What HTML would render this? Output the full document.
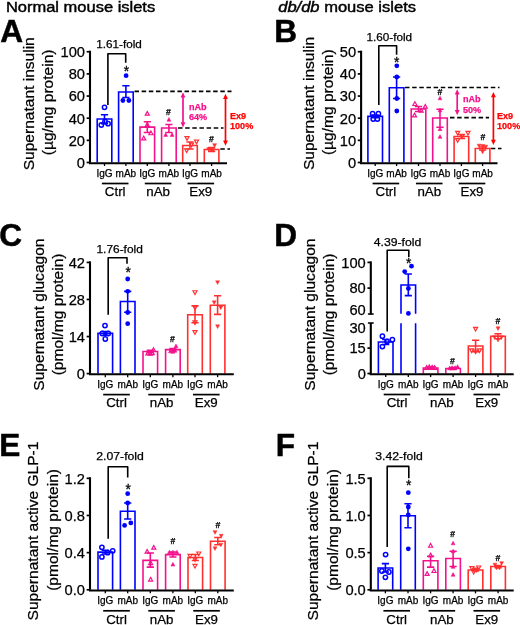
<!DOCTYPE html>
<html lang="en"><head><meta charset="utf-8"><title>Figure</title>
<style>html,body{margin:0;padding:0;background:#fff}svg{display:block}</style></head><body>
<svg width="520" height="625" viewBox="0 0 520 625" font-family='"Liberation Sans", Arial, sans-serif' fill="#000">
<rect width="520" height="625" fill="#fff"/>
<text x="5.9" y="12.0" font-size="15.3" text-anchor="start" fill="#000" textLength="149.3" lengthAdjust="spacingAndGlyphs" stroke="#000" stroke-width="0.45">Normal mouse islets</text>
<text x="278.2" y="12.0" font-size="15.3" stroke="#000" stroke-width="0.45" textLength="137.8" lengthAdjust="spacingAndGlyphs"><tspan font-style="italic">db/db</tspan> mouse islets</text>
<text x="0.2" y="41.8" font-size="31.6" text-anchor="start" fill="#000" font-weight="bold" stroke="#000" stroke-width="0.5">A</text>
<text transform="translate(34.4,103.8) rotate(-90)" font-size="15.55" text-anchor="middle" stroke="#000" stroke-width="0.25">Supernatant insulin</text>
<text transform="translate(52.8,102.4) rotate(-90)" font-size="15.55" text-anchor="middle" stroke="#000" stroke-width="0.25">(µg/mg protein)</text>
<path d="M97.2,162.5 V119 H111.8 V162.5" fill="none" stroke="#0000FF" stroke-width="1.6"/>
<path d="M118.60000000000001,162.5 V92 H133.20000000000002 V162.5" fill="none" stroke="#0000FF" stroke-width="1.6"/>
<path d="M140.0,162.5 V127.1 H154.60000000000002 V162.5" fill="none" stroke="#F4118C" stroke-width="1.6"/>
<path d="M161.6,162.5 V128 H176.20000000000002 V162.5" fill="none" stroke="#F4118C" stroke-width="1.6"/>
<path d="M182.7,162.5 V145.5 H197.3 V162.5" fill="none" stroke="#FF3030" stroke-width="1.6"/>
<path d="M204.29999999999998,162.5 V149.5 H218.9 V162.5" fill="none" stroke="#FF3030" stroke-width="1.6"/>
<path d="M104.5,114.7 V123.7 M100.9,114.7 H108.1 M100.9,123.7 H108.1" fill="none" stroke="#0000FF" stroke-width="1.6"/>
<path d="M125.9,85.8 V97.5 M122.30000000000001,85.8 H129.5 M122.30000000000001,97.5 H129.5" fill="none" stroke="#0000FF" stroke-width="1.6"/>
<path d="M147.3,121.7 V132.5 M143.70000000000002,121.7 H150.9 M143.70000000000002,132.5 H150.9" fill="none" stroke="#F4118C" stroke-width="1.6"/>
<path d="M168.9,124.5 V132.5 M165.3,124.5 H172.5 M165.3,132.5 H172.5" fill="none" stroke="#F4118C" stroke-width="1.6"/>
<path d="M190.0,142 V149 M186.4,142 H193.6 M186.4,149 H193.6" fill="none" stroke="#FF3030" stroke-width="1.6"/>
<path d="M211.6,147.5 V151.5 M208.0,147.5 H215.2 M208.0,151.5 H215.2" fill="none" stroke="#FF3030" stroke-width="1.6"/>
<circle cx="104.5" cy="107.3" r="2.15" fill="none" stroke="#0000FF" stroke-width="1.5"/>
<circle cx="101.3" cy="125" r="2.15" fill="none" stroke="#0000FF" stroke-width="1.5"/>
<circle cx="108.1" cy="123.7" r="2.15" fill="none" stroke="#0000FF" stroke-width="1.5"/>
<circle cx="105.0" cy="121.5" r="2.15" fill="none" stroke="#0000FF" stroke-width="1.5"/>
<circle cx="126.10000000000001" cy="75.7" r="2.4" fill="#0000FF"/>
<circle cx="122.9" cy="100.5" r="2.4" fill="#0000FF"/>
<circle cx="128.9" cy="100.5" r="2.4" fill="#0000FF"/>
<polygon points="147.3,111.45 149.35000000000002,115.14999999999999 145.25,115.14999999999999" fill="none" stroke="#F4118C" stroke-width="1.15" stroke-linejoin="miter"/>
<polygon points="150.9,131.05 152.95000000000002,134.75 148.85,134.75" fill="none" stroke="#F4118C" stroke-width="1.15" stroke-linejoin="miter"/>
<polygon points="143.70000000000002,136.15 145.75000000000003,139.85 141.65,139.85" fill="none" stroke="#F4118C" stroke-width="1.15" stroke-linejoin="miter"/>
<polygon points="147.3,122.65 149.35000000000002,126.35 145.25,126.35" fill="none" stroke="#F4118C" stroke-width="1.15" stroke-linejoin="miter"/>
<polygon points="168.9,117.55000000000001 170.85,121.25 166.95000000000002,121.25" fill="#F4118C" stroke="#F4118C" stroke-width="0.5"/>
<polygon points="165.70000000000002,132.75 167.65,136.45 163.75000000000003,136.45" fill="#F4118C" stroke="#F4118C" stroke-width="0.5"/>
<polygon points="172.1,132.75 174.04999999999998,136.45 170.15,136.45" fill="#F4118C" stroke="#F4118C" stroke-width="0.5"/>
<polygon points="187.0,140.35 189.05,136.65 184.95,136.65" fill="none" stroke="#FF3030" stroke-width="1.15" stroke-linejoin="miter"/>
<polygon points="196.5,143.85 198.55,140.15 194.45,140.15" fill="none" stroke="#FF3030" stroke-width="1.15" stroke-linejoin="miter"/>
<polygon points="186.7,152.54999999999998 188.75,148.85 184.64999999999998,148.85" fill="none" stroke="#FF3030" stroke-width="1.15" stroke-linejoin="miter"/>
<polygon points="191.5,146.85 193.55,143.15 189.45,143.15" fill="none" stroke="#FF3030" stroke-width="1.15" stroke-linejoin="miter"/>
<polygon points="214.6,147.35 216.54999999999998,143.65 212.65,143.65" fill="#FF3030" stroke="#FF3030" stroke-width="0.5"/>
<polygon points="210.1,151.85 212.04999999999998,148.15 208.15,148.15" fill="#FF3030" stroke="#FF3030" stroke-width="0.5"/>
<polygon points="213.1,152.15 215.04999999999998,148.45000000000002 211.15,148.45000000000002" fill="#FF3030" stroke="#FF3030" stroke-width="0.5"/>
<polygon points="208.6,151.35 210.54999999999998,147.65 206.65,147.65" fill="#FF3030" stroke="#FF3030" stroke-width="0.5"/>
<path d="M88.95,163.2 H227" stroke="#000" stroke-width="2.1" fill="none"/>
<path d="M104.5,163.2 V166.05" stroke="#000" stroke-width="1.3" fill="none"/>
<path d="M125.9,163.2 V166.05" stroke="#000" stroke-width="1.3" fill="none"/>
<path d="M147.3,163.2 V166.05" stroke="#000" stroke-width="1.3" fill="none"/>
<path d="M168.9,163.2 V166.05" stroke="#000" stroke-width="1.3" fill="none"/>
<path d="M190.0,163.2 V166.05" stroke="#000" stroke-width="1.3" fill="none"/>
<path d="M211.6,163.2 V166.05" stroke="#000" stroke-width="1.3" fill="none"/>
<path d="M90,50.7 V162.5" stroke="#000" stroke-width="2.1" fill="none"/>
<path d="M86.65,162.5 H90" stroke="#000" stroke-width="1.7" fill="none"/>
<text x="85.0" y="167.8626" font-size="14.7" text-anchor="end" fill="#000" stroke="#000" stroke-width="0.25">0</text>
<path d="M86.65,140.35 H90" stroke="#000" stroke-width="1.7" fill="none"/>
<text x="85.0" y="145.71259999999998" font-size="14.7" text-anchor="end" fill="#000" stroke="#000" stroke-width="0.25">20</text>
<path d="M86.65,118.2 H90" stroke="#000" stroke-width="1.7" fill="none"/>
<text x="85.0" y="123.5626" font-size="14.7" text-anchor="end" fill="#000" stroke="#000" stroke-width="0.25">40</text>
<path d="M86.65,96.05000000000001 H90" stroke="#000" stroke-width="1.7" fill="none"/>
<text x="85.0" y="101.41260000000001" font-size="14.7" text-anchor="end" fill="#000" stroke="#000" stroke-width="0.25">60</text>
<path d="M86.65,73.9 H90" stroke="#000" stroke-width="1.7" fill="none"/>
<text x="85.0" y="79.2626" font-size="14.7" text-anchor="end" fill="#000" stroke="#000" stroke-width="0.25">80</text>
<path d="M86.65,51.75 H90" stroke="#000" stroke-width="1.7" fill="none"/>
<text x="85.0" y="57.1126" font-size="14.7" text-anchor="end" fill="#000" stroke="#000" stroke-width="0.25">100</text>
<text x="104.5" y="176.8" font-size="10.0" text-anchor="middle" fill="#000" stroke="#000" stroke-width="0.25">IgG</text>
<text x="125.9" y="176.8" font-size="10.0" text-anchor="middle" fill="#000" stroke="#000" stroke-width="0.25">mAb</text>
<text x="147.3" y="176.8" font-size="10.0" text-anchor="middle" fill="#000" stroke="#000" stroke-width="0.25">IgG</text>
<text x="168.9" y="176.8" font-size="10.0" text-anchor="middle" fill="#000" stroke="#000" stroke-width="0.25">mAb</text>
<text x="190.0" y="176.8" font-size="10.0" text-anchor="middle" fill="#000" stroke="#000" stroke-width="0.25">IgG</text>
<text x="211.6" y="176.8" font-size="10.0" text-anchor="middle" fill="#000" stroke="#000" stroke-width="0.25">mAb</text>
<path d="M101.9,183.5 H128.5" stroke="#000" stroke-width="1.7" fill="none"/>
<text x="115.2" y="196.3" font-size="13.3" text-anchor="middle" fill="#000" stroke="#000" stroke-width="0.25">Ctrl</text>
<path d="M144.8,183.5 H171.40000000000003" stroke="#000" stroke-width="1.7" fill="none"/>
<text x="158.10000000000002" y="196.3" font-size="13.3" text-anchor="middle" fill="#000" stroke="#000" stroke-width="0.25">nAb</text>
<path d="M187.5,183.5 H214.10000000000002" stroke="#000" stroke-width="1.7" fill="none"/>
<text x="200.8" y="196.3" font-size="13.3" text-anchor="middle" fill="#000" stroke="#000" stroke-width="0.25">Ex9</text>
<path d="M107.9,104.9 V53.7 H125.7 V62.800000000000004" stroke="#000" stroke-width="1.6" fill="none" stroke-linejoin="round"/>
<text x="119.1" y="48.1" font-size="11.1" text-anchor="middle" fill="#000" textLength="45.6" lengthAdjust="spacingAndGlyphs" stroke="#000" stroke-width="0.25">1.61-fold</text>
<text x="126.5" y="76.48" font-size="13.8" text-anchor="middle" fill="#000" stroke="#000" stroke-width="0.3">*</text>
<text x="168.3" y="115.2" font-size="8.6" text-anchor="middle" fill="#000" font-weight="bold" stroke="#000" stroke-width="0.25">#</text>
<text x="211.3" y="142.4" font-size="8.6" text-anchor="middle" fill="#000" font-weight="bold" stroke="#000" stroke-width="0.25">#</text>
<path d="M134.5,91.4 H231.5" stroke="#000" stroke-width="1.7" stroke-dasharray="4.5 2.65" fill="none"/>
<path d="M178,128 H223.5" stroke="#000" stroke-width="1.7" stroke-dasharray="4.5 2.65" fill="none"/>
<path d="M220.3,149 H230" stroke="#000" stroke-width="1.7" stroke-dasharray="4.5 2.65" fill="none"/>
<path d="M183,97.0 V122.7" stroke="#F4118C" stroke-width="1.7" fill="none"/>
<polygon points="183,92.3 185.4,97.5 180.6,97.5" fill="#F4118C"/>
<polygon points="183,127.4 185.4,122.2 180.6,122.2" fill="#F4118C"/>
<path d="M225.5,98.5 V141.10000000000002" stroke="#FF0000" stroke-width="1.7" fill="none"/>
<polygon points="225.5,93.8 227.9,99.0 223.1,99.0" fill="#FF0000"/>
<polygon points="225.5,145.8 227.9,140.60000000000002 223.1,140.60000000000002" fill="#FF0000"/>
<text x="189" y="109.5" font-size="9.1" text-anchor="start" fill="#F4118C" font-weight="bold" stroke="#F4118C" stroke-width="0.25">nAb</text>
<text x="189" y="120" font-size="9.1" text-anchor="start" fill="#F4118C" font-weight="bold" stroke="#F4118C" stroke-width="0.25">64%</text>
<text x="230" y="118.5" font-size="9.1" text-anchor="start" fill="#FF0000" font-weight="bold" stroke="#FF0000" stroke-width="0.25">Ex9</text>
<text x="230" y="129" font-size="9.1" text-anchor="start" fill="#FF0000" font-weight="bold" stroke="#FF0000" stroke-width="0.25">100%</text>
<text x="274.3" y="41.8" font-size="31.6" text-anchor="start" fill="#000" font-weight="bold" stroke="#000" stroke-width="0.5">B</text>
<text transform="translate(314.0,103.5) rotate(-90)" font-size="15.55" text-anchor="middle" stroke="#000" stroke-width="0.25">Supernatant insulin</text>
<text transform="translate(332.5,102.2) rotate(-90)" font-size="15.55" text-anchor="middle" stroke="#000" stroke-width="0.25">(µg/mg protein)</text>
<path d="M367.9,162.5 V116.4 H382.5 V162.5" fill="none" stroke="#0000FF" stroke-width="1.6"/>
<path d="M389.3,162.5 V87.8 H403.90000000000003 V162.5" fill="none" stroke="#0000FF" stroke-width="1.6"/>
<path d="M411.2,162.5 V109 H425.8 V162.5" fill="none" stroke="#F4118C" stroke-width="1.6"/>
<path d="M432.7,162.5 V118 H447.3 V162.5" fill="none" stroke="#F4118C" stroke-width="1.6"/>
<path d="M454.09999999999997,162.5 V136.5 H468.7 V162.5" fill="none" stroke="#FF3030" stroke-width="1.6"/>
<path d="M475.3,162.5 V148.5 H489.90000000000003 V162.5" fill="none" stroke="#FF3030" stroke-width="1.6"/>
<path d="M375.2,115 V117.8 M371.59999999999997,115 H378.8 M371.59999999999997,117.8 H378.8" fill="none" stroke="#0000FF" stroke-width="1.6"/>
<path d="M396.6,77 V98.5 M393.0,77 H400.20000000000005 M393.0,98.5 H400.20000000000005" fill="none" stroke="#0000FF" stroke-width="1.6"/>
<path d="M418.5,106.5 V111.5 M414.9,106.5 H422.1 M414.9,111.5 H422.1" fill="none" stroke="#F4118C" stroke-width="1.6"/>
<path d="M440.0,109.2 V127.3 M436.4,109.2 H443.6 M436.4,127.3 H443.6" fill="none" stroke="#F4118C" stroke-width="1.6"/>
<path d="M461.4,134.5 V138.5 M457.79999999999995,134.5 H465.0 M457.79999999999995,138.5 H465.0" fill="none" stroke="#FF3030" stroke-width="1.6"/>
<path d="M482.6,147 V150 M479.0,147 H486.20000000000005 M479.0,150 H486.20000000000005" fill="none" stroke="#FF3030" stroke-width="1.6"/>
<circle cx="372.59999999999997" cy="113.7" r="2.15" fill="none" stroke="#0000FF" stroke-width="1.5"/>
<circle cx="378.4" cy="113.7" r="2.15" fill="none" stroke="#0000FF" stroke-width="1.5"/>
<circle cx="373.2" cy="119" r="2.15" fill="none" stroke="#0000FF" stroke-width="1.5"/>
<circle cx="377.4" cy="119" r="2.15" fill="none" stroke="#0000FF" stroke-width="1.5"/>
<circle cx="396.8" cy="65.8" r="2.4" fill="#0000FF"/>
<circle cx="396.8" cy="77" r="2.4" fill="#0000FF"/>
<circle cx="396.8" cy="98.5" r="2.4" fill="#0000FF"/>
<circle cx="396.8" cy="111" r="2.4" fill="#0000FF"/>
<polygon points="414.9,101.75 416.95,105.44999999999999 412.84999999999997,105.44999999999999" fill="none" stroke="#F4118C" stroke-width="1.15" stroke-linejoin="miter"/>
<polygon points="425.3,104.45 427.35,108.14999999999999 423.25,108.14999999999999" fill="none" stroke="#F4118C" stroke-width="1.15" stroke-linejoin="miter"/>
<polygon points="421.2,108.55000000000001 423.25,112.25 419.15,112.25" fill="none" stroke="#F4118C" stroke-width="1.15" stroke-linejoin="miter"/>
<polygon points="414.5,113.15 416.55,116.85 412.45,116.85" fill="none" stroke="#F4118C" stroke-width="1.15" stroke-linejoin="miter"/>
<polygon points="440.0,96.15 441.95,99.85 438.05,99.85" fill="#F4118C" stroke="#F4118C" stroke-width="0.5"/>
<polygon points="440.0,108.15 441.95,111.85 438.05,111.85" fill="#F4118C" stroke="#F4118C" stroke-width="0.5"/>
<polygon points="440.0,126.95000000000002 441.95,130.65 438.05,130.65" fill="#F4118C" stroke="#F4118C" stroke-width="0.5"/>
<polygon points="440.0,134.65 441.95,138.35 438.05,138.35" fill="#F4118C" stroke="#F4118C" stroke-width="0.5"/>
<polygon points="457.7,135.04999999999998 459.75,131.35 455.65,131.35" fill="none" stroke="#FF3030" stroke-width="1.15" stroke-linejoin="miter"/>
<polygon points="468.0,135.04999999999998 470.05,131.35 465.95,131.35" fill="none" stroke="#FF3030" stroke-width="1.15" stroke-linejoin="miter"/>
<polygon points="457.7,142.25 459.75,138.55 455.65,138.55" fill="none" stroke="#FF3030" stroke-width="1.15" stroke-linejoin="miter"/>
<polygon points="462.0,138.35 464.05,134.65 459.95,134.65" fill="none" stroke="#FF3030" stroke-width="1.15" stroke-linejoin="miter"/>
<polygon points="479.1,147.85 481.05,144.15 477.15000000000003,144.15" fill="#FF3030" stroke="#FF3030" stroke-width="0.5"/>
<polygon points="482.6,148.15 484.55,144.45000000000002 480.65000000000003,144.45000000000002" fill="#FF3030" stroke="#FF3030" stroke-width="0.5"/>
<polygon points="485.8,148.85 487.75,145.15 483.85,145.15" fill="#FF3030" stroke="#FF3030" stroke-width="0.5"/>
<polygon points="482.6,153.85 484.55,150.15 480.65000000000003,150.15" fill="#FF3030" stroke="#FF3030" stroke-width="0.5"/>
<path d="M360.05,163.2 H497.5" stroke="#000" stroke-width="2.1" fill="none"/>
<path d="M375.2,163.2 V166.05" stroke="#000" stroke-width="1.3" fill="none"/>
<path d="M396.6,163.2 V166.05" stroke="#000" stroke-width="1.3" fill="none"/>
<path d="M418.5,163.2 V166.05" stroke="#000" stroke-width="1.3" fill="none"/>
<path d="M440.0,163.2 V166.05" stroke="#000" stroke-width="1.3" fill="none"/>
<path d="M461.4,163.2 V166.05" stroke="#000" stroke-width="1.3" fill="none"/>
<path d="M482.6,163.2 V166.05" stroke="#000" stroke-width="1.3" fill="none"/>
<path d="M361.1,50.7 V162.5" stroke="#000" stroke-width="2.1" fill="none"/>
<path d="M357.75,162.5 H361.1" stroke="#000" stroke-width="1.7" fill="none"/>
<text x="356.1" y="167.8626" font-size="14.7" text-anchor="end" fill="#000" stroke="#000" stroke-width="0.25">0</text>
<path d="M357.75,140.35 H361.1" stroke="#000" stroke-width="1.7" fill="none"/>
<text x="356.1" y="145.71259999999998" font-size="14.7" text-anchor="end" fill="#000" stroke="#000" stroke-width="0.25">10</text>
<path d="M357.75,118.2 H361.1" stroke="#000" stroke-width="1.7" fill="none"/>
<text x="356.1" y="123.5626" font-size="14.7" text-anchor="end" fill="#000" stroke="#000" stroke-width="0.25">20</text>
<path d="M357.75,96.05000000000001 H361.1" stroke="#000" stroke-width="1.7" fill="none"/>
<text x="356.1" y="101.41260000000001" font-size="14.7" text-anchor="end" fill="#000" stroke="#000" stroke-width="0.25">30</text>
<path d="M357.75,73.9 H361.1" stroke="#000" stroke-width="1.7" fill="none"/>
<text x="356.1" y="79.2626" font-size="14.7" text-anchor="end" fill="#000" stroke="#000" stroke-width="0.25">40</text>
<path d="M357.75,51.75 H361.1" stroke="#000" stroke-width="1.7" fill="none"/>
<text x="356.1" y="57.1126" font-size="14.7" text-anchor="end" fill="#000" stroke="#000" stroke-width="0.25">50</text>
<text x="375.2" y="176.8" font-size="10.0" text-anchor="middle" fill="#000" stroke="#000" stroke-width="0.25">IgG</text>
<text x="396.6" y="176.8" font-size="10.0" text-anchor="middle" fill="#000" stroke="#000" stroke-width="0.25">mAb</text>
<text x="418.5" y="176.8" font-size="10.0" text-anchor="middle" fill="#000" stroke="#000" stroke-width="0.25">IgG</text>
<text x="440.0" y="176.8" font-size="10.0" text-anchor="middle" fill="#000" stroke="#000" stroke-width="0.25">mAb</text>
<text x="461.4" y="176.8" font-size="10.0" text-anchor="middle" fill="#000" stroke="#000" stroke-width="0.25">IgG</text>
<text x="482.6" y="176.8" font-size="10.0" text-anchor="middle" fill="#000" stroke="#000" stroke-width="0.25">mAb</text>
<path d="M372.59999999999997,183.5 H399.2" stroke="#000" stroke-width="1.7" fill="none"/>
<text x="385.9" y="196.3" font-size="13.3" text-anchor="middle" fill="#000" stroke="#000" stroke-width="0.25">Ctrl</text>
<path d="M415.95,183.5 H442.55" stroke="#000" stroke-width="1.7" fill="none"/>
<text x="429.25" y="196.3" font-size="13.3" text-anchor="middle" fill="#000" stroke="#000" stroke-width="0.25">nAb</text>
<path d="M458.7,183.5 H485.3" stroke="#000" stroke-width="1.7" fill="none"/>
<text x="472.0" y="196.3" font-size="13.3" text-anchor="middle" fill="#000" stroke="#000" stroke-width="0.25">Ex9</text>
<path d="M378.8,105 V45.7 H396.6 V54.7" stroke="#000" stroke-width="1.6" fill="none" stroke-linejoin="round"/>
<text x="389.3" y="40.9" font-size="11.1" text-anchor="middle" fill="#000" textLength="45.6" lengthAdjust="spacingAndGlyphs" stroke="#000" stroke-width="0.25">1.60-fold</text>
<text x="396.6" y="67.38" font-size="13.8" text-anchor="middle" fill="#000" stroke="#000" stroke-width="0.3">*</text>
<text x="440" y="94.5" font-size="8.6" text-anchor="middle" fill="#000" font-weight="bold" stroke="#000" stroke-width="0.25">#</text>
<text x="482.8" y="140" font-size="8.6" text-anchor="middle" fill="#000" font-weight="bold" stroke="#000" stroke-width="0.25">#</text>
<path d="M405,87.5 H499.5" stroke="#000" stroke-width="1.7" stroke-dasharray="4.5 2.65" fill="none"/>
<path d="M450,117.7 H489" stroke="#000" stroke-width="1.7" stroke-dasharray="4.5 2.65" fill="none"/>
<path d="M490.8,148.5 H501.5" stroke="#000" stroke-width="1.7" stroke-dasharray="4.5 2.65" fill="none"/>
<path d="M457.2,93.9 V110.6" stroke="#F4118C" stroke-width="1.7" fill="none"/>
<polygon points="457.2,89.2 459.59999999999997,94.4 454.8,94.4" fill="#F4118C"/>
<polygon points="457.2,115.3 459.59999999999997,110.1 454.8,110.1" fill="#F4118C"/>
<path d="M493.4,96.7 V140.3" stroke="#FF0000" stroke-width="1.7" fill="none"/>
<polygon points="493.4,92 495.79999999999995,97.2 491.0,97.2" fill="#FF0000"/>
<polygon points="493.4,145 495.79999999999995,139.8 491.0,139.8" fill="#FF0000"/>
<text x="463" y="102.4" font-size="9.1" text-anchor="start" fill="#F4118C" font-weight="bold" stroke="#F4118C" stroke-width="0.25">nAb</text>
<text x="463" y="112.7" font-size="9.1" text-anchor="start" fill="#F4118C" font-weight="bold" stroke="#F4118C" stroke-width="0.25">50%</text>
<text x="497" y="119" font-size="9.1" text-anchor="start" fill="#FF0000" font-weight="bold" stroke="#FF0000" stroke-width="0.25">Ex9</text>
<text x="497" y="129.3" font-size="9.1" text-anchor="start" fill="#FF0000" font-weight="bold" stroke="#FF0000" stroke-width="0.25">100%</text>
<text x="-0.8" y="245.6" font-size="31.6" text-anchor="start" fill="#000" font-weight="bold" stroke="#000" stroke-width="0.5">C</text>
<text transform="translate(43.7,314.6) rotate(-90)" font-size="15.55" text-anchor="middle" stroke="#000" stroke-width="0.25">Supernatant glucagon</text>
<text transform="translate(62.8,314.45) rotate(-90)" font-size="15.55" text-anchor="middle" stroke="#000" stroke-width="0.25">(pmol/mg protein)</text>
<path d="M98.0,373.6 V333.3 H112.6 V373.6" fill="none" stroke="#0000FF" stroke-width="1.6"/>
<path d="M120.4,373.6 V301.5 H135.0 V373.6" fill="none" stroke="#0000FF" stroke-width="1.6"/>
<path d="M143.0,373.6 V351.5 H157.60000000000002 V373.6" fill="none" stroke="#F4118C" stroke-width="1.6"/>
<path d="M165.6,373.6 V349.6 H180.20000000000002 V373.6" fill="none" stroke="#F4118C" stroke-width="1.6"/>
<path d="M187.7,373.6 V314.7 H202.3 V373.6" fill="none" stroke="#FF3030" stroke-width="1.6"/>
<path d="M210.29999999999998,373.6 V305.2 H224.9 V373.6" fill="none" stroke="#FF3030" stroke-width="1.6"/>
<path d="M105.3,331.5 V335.3 M101.7,331.5 H108.89999999999999 M101.7,335.3 H108.89999999999999" fill="none" stroke="#0000FF" stroke-width="1.6"/>
<path d="M127.7,291.4 V312.3 M124.10000000000001,291.4 H131.3 M124.10000000000001,312.3 H131.3" fill="none" stroke="#0000FF" stroke-width="1.6"/>
<path d="M150.3,350.3 V352.8 M146.70000000000002,350.3 H153.9 M146.70000000000002,352.8 H153.9" fill="none" stroke="#F4118C" stroke-width="1.6"/>
<path d="M172.9,348.5 V351 M169.3,348.5 H176.5 M169.3,351 H176.5" fill="none" stroke="#F4118C" stroke-width="1.6"/>
<path d="M195.0,305.8 V322.8 M191.4,305.8 H198.6 M191.4,322.8 H198.6" fill="none" stroke="#FF3030" stroke-width="1.6"/>
<path d="M217.6,295.8 V314.4 M214.0,295.8 H221.2 M214.0,314.4 H221.2" fill="none" stroke="#FF3030" stroke-width="1.6"/>
<circle cx="105.0" cy="325.6" r="2.15" fill="none" stroke="#0000FF" stroke-width="1.5"/>
<circle cx="102.3" cy="333.5" r="2.15" fill="none" stroke="#0000FF" stroke-width="1.5"/>
<circle cx="108.3" cy="333.5" r="2.15" fill="none" stroke="#0000FF" stroke-width="1.5"/>
<circle cx="105.3" cy="339" r="2.15" fill="none" stroke="#0000FF" stroke-width="1.5"/>
<circle cx="127.7" cy="279" r="2.4" fill="#0000FF"/>
<circle cx="127.7" cy="291.3" r="2.4" fill="#0000FF"/>
<circle cx="127.7" cy="312.5" r="2.4" fill="#0000FF"/>
<circle cx="127.7" cy="323.7" r="2.4" fill="#0000FF"/>
<polygon points="153.5,347.75 155.55,351.45000000000005 151.45,351.45000000000005" fill="none" stroke="#F4118C" stroke-width="1.15" stroke-linejoin="miter"/>
<polygon points="147.8,351.15 149.85000000000002,354.85 145.75,354.85" fill="none" stroke="#F4118C" stroke-width="1.15" stroke-linejoin="miter"/>
<polygon points="150.3,351.45 152.35000000000002,355.15000000000003 148.25,355.15000000000003" fill="none" stroke="#F4118C" stroke-width="1.15" stroke-linejoin="miter"/>
<polygon points="152.3,350.95 154.35000000000002,354.65000000000003 150.25,354.65000000000003" fill="none" stroke="#F4118C" stroke-width="1.15" stroke-linejoin="miter"/>
<polygon points="176.0,343.95 177.95,347.65000000000003 174.05,347.65000000000003" fill="#F4118C" stroke="#F4118C" stroke-width="0.5"/>
<polygon points="170.4,349.15 172.35,352.85 168.45000000000002,352.85" fill="#F4118C" stroke="#F4118C" stroke-width="0.5"/>
<polygon points="172.9,349.65 174.85,353.35 170.95000000000002,353.35" fill="#F4118C" stroke="#F4118C" stroke-width="0.5"/>
<polygon points="174.9,348.65 176.85,352.35 172.95000000000002,352.35" fill="#F4118C" stroke="#F4118C" stroke-width="0.5"/>
<polygon points="195.0,294.45000000000005 197.05,290.75 192.95,290.75" fill="none" stroke="#FF3030" stroke-width="1.15" stroke-linejoin="miter"/>
<polygon points="195.0,309.65000000000003 197.05,305.95 192.95,305.95" fill="none" stroke="#FF3030" stroke-width="1.15" stroke-linejoin="miter"/>
<polygon points="195.0,324.45000000000005 197.05,320.75 192.95,320.75" fill="none" stroke="#FF3030" stroke-width="1.15" stroke-linejoin="miter"/>
<polygon points="195.0,334.25 197.05,330.54999999999995 192.95,330.54999999999995" fill="none" stroke="#FF3030" stroke-width="1.15" stroke-linejoin="miter"/>
<polygon points="217.6,284.45000000000005 219.54999999999998,280.75 215.65,280.75" fill="#FF3030" stroke="#FF3030" stroke-width="0.5"/>
<polygon points="214.2,304.55 216.14999999999998,300.84999999999997 212.25,300.84999999999997" fill="#FF3030" stroke="#FF3030" stroke-width="0.5"/>
<polygon points="220.79999999999998,309.65000000000003 222.74999999999997,305.95 218.85,305.95" fill="#FF3030" stroke="#FF3030" stroke-width="0.5"/>
<polygon points="217.6,328.55 219.54999999999998,324.84999999999997 215.65,324.84999999999997" fill="#FF3030" stroke="#FF3030" stroke-width="0.5"/>
<path d="M88.95,374.3 H233.8" stroke="#000" stroke-width="2.1" fill="none"/>
<path d="M105.3,374.3 V377.15000000000003" stroke="#000" stroke-width="1.3" fill="none"/>
<path d="M127.7,374.3 V377.15000000000003" stroke="#000" stroke-width="1.3" fill="none"/>
<path d="M150.3,374.3 V377.15000000000003" stroke="#000" stroke-width="1.3" fill="none"/>
<path d="M172.9,374.3 V377.15000000000003" stroke="#000" stroke-width="1.3" fill="none"/>
<path d="M195.0,374.3 V377.15000000000003" stroke="#000" stroke-width="1.3" fill="none"/>
<path d="M217.6,374.3 V377.15000000000003" stroke="#000" stroke-width="1.3" fill="none"/>
<path d="M90,261.34999999999997 V373.6" stroke="#000" stroke-width="2.1" fill="none"/>
<path d="M86.65,373.6 H90" stroke="#000" stroke-width="1.7" fill="none"/>
<text x="85.0" y="378.96260000000007" font-size="14.7" text-anchor="end" fill="#000" stroke="#000" stroke-width="0.25">0</text>
<path d="M86.65,336.54200000000003 H90" stroke="#000" stroke-width="1.7" fill="none"/>
<text x="85.0" y="341.9046000000001" font-size="14.7" text-anchor="end" fill="#000" stroke="#000" stroke-width="0.25">14</text>
<path d="M86.65,299.48400000000004 H90" stroke="#000" stroke-width="1.7" fill="none"/>
<text x="85.0" y="304.8466000000001" font-size="14.7" text-anchor="end" fill="#000" stroke="#000" stroke-width="0.25">28</text>
<path d="M86.65,262.42600000000004 H90" stroke="#000" stroke-width="1.7" fill="none"/>
<text x="85.0" y="267.7886000000001" font-size="14.7" text-anchor="end" fill="#000" stroke="#000" stroke-width="0.25">42</text>
<text x="105.3" y="387.90000000000003" font-size="10.0" text-anchor="middle" fill="#000" stroke="#000" stroke-width="0.25">IgG</text>
<text x="127.7" y="387.90000000000003" font-size="10.0" text-anchor="middle" fill="#000" stroke="#000" stroke-width="0.25">mAb</text>
<text x="150.3" y="387.90000000000003" font-size="10.0" text-anchor="middle" fill="#000" stroke="#000" stroke-width="0.25">IgG</text>
<text x="172.9" y="387.90000000000003" font-size="10.0" text-anchor="middle" fill="#000" stroke="#000" stroke-width="0.25">mAb</text>
<text x="195.0" y="387.90000000000003" font-size="10.0" text-anchor="middle" fill="#000" stroke="#000" stroke-width="0.25">IgG</text>
<text x="217.6" y="387.90000000000003" font-size="10.0" text-anchor="middle" fill="#000" stroke="#000" stroke-width="0.25">mAb</text>
<path d="M103.2,394.6 H129.8" stroke="#000" stroke-width="1.7" fill="none"/>
<text x="116.5" y="407.40000000000003" font-size="13.3" text-anchor="middle" fill="#000" stroke="#000" stroke-width="0.25">Ctrl</text>
<path d="M148.3,394.6 H174.90000000000003" stroke="#000" stroke-width="1.7" fill="none"/>
<text x="161.60000000000002" y="407.40000000000003" font-size="13.3" text-anchor="middle" fill="#000" stroke="#000" stroke-width="0.25">nAb</text>
<path d="M193.0,394.6 H219.60000000000002" stroke="#000" stroke-width="1.7" fill="none"/>
<text x="206.3" y="407.40000000000003" font-size="13.3" text-anchor="middle" fill="#000" stroke="#000" stroke-width="0.25">Ex9</text>
<path d="M108.2,314.7 V257.8 H127 V263.8" stroke="#000" stroke-width="1.6" fill="none" stroke-linejoin="round"/>
<text x="119.65" y="252.8" font-size="11.1" text-anchor="middle" fill="#000" textLength="46.4" lengthAdjust="spacingAndGlyphs" stroke="#000" stroke-width="0.25">1.76-fold</text>
<text x="128.2" y="276.88" font-size="13.8" text-anchor="middle" fill="#000" stroke="#000" stroke-width="0.3">*</text>
<text x="172.3" y="342.2" font-size="8.6" text-anchor="middle" fill="#000" font-weight="bold" stroke="#000" stroke-width="0.25">#</text>
<text x="274.2" y="245.8" font-size="31.6" text-anchor="start" fill="#000" font-weight="bold" stroke="#000" stroke-width="0.5">D</text>
<text transform="translate(314.8,314.6) rotate(-90)" font-size="15.55" text-anchor="middle" stroke="#000" stroke-width="0.25">Supernatant glucagon</text>
<text transform="translate(333.9,314.45) rotate(-90)" font-size="15.55" text-anchor="middle" stroke="#000" stroke-width="0.25">(pmol/mg protein)</text>
<path d="M378.4,373.5 V342 H393.0 V373.5" fill="none" stroke="#0000FF" stroke-width="1.6"/>
<path d="M401.0,313.7 V285 H415.6 V313.7 M401.0,373.5 V323.3 M415.6,373.5 V323.3" fill="none" stroke="#0000FF" stroke-width="1.6"/>
<path d="M423.3,373.5 V368 H437.90000000000003 V373.5" fill="none" stroke="#F4118C" stroke-width="1.6"/>
<path d="M445.8,373.5 V368.5 H460.40000000000003 V373.5" fill="none" stroke="#F4118C" stroke-width="1.6"/>
<path d="M468.3,373.5 V346 H482.90000000000003 V373.5" fill="none" stroke="#FF3030" stroke-width="1.6"/>
<path d="M490.7,373.5 V336.3 H505.3 V373.5" fill="none" stroke="#FF3030" stroke-width="1.6"/>
<path d="M385.7,339.5 V344.5 M382.09999999999997,339.5 H389.3 M382.09999999999997,344.5 H389.3" fill="none" stroke="#0000FF" stroke-width="1.6"/>
<path d="M408.3,274 V295.6 M404.7,274 H411.90000000000003 M404.7,295.6 H411.90000000000003" fill="none" stroke="#0000FF" stroke-width="1.6"/>
<path d="M430.6,367 V369 M427.0,367 H434.20000000000005 M427.0,369 H434.20000000000005" fill="none" stroke="#F4118C" stroke-width="1.6"/>
<path d="M453.1,367.5 V369.5 M449.5,367.5 H456.70000000000005 M449.5,369.5 H456.70000000000005" fill="none" stroke="#F4118C" stroke-width="1.6"/>
<path d="M475.6,340.2 V351.8 M472.0,340.2 H479.20000000000005 M472.0,351.8 H479.20000000000005" fill="none" stroke="#FF3030" stroke-width="1.6"/>
<path d="M498.0,333.8 V338.8 M494.4,333.8 H501.6 M494.4,338.8 H501.6" fill="none" stroke="#FF3030" stroke-width="1.6"/>
<circle cx="382.4" cy="336.2" r="2.15" fill="none" stroke="#0000FF" stroke-width="1.5"/>
<circle cx="392.4" cy="339.7" r="2.15" fill="none" stroke="#0000FF" stroke-width="1.5"/>
<circle cx="387.0" cy="341.4" r="2.15" fill="none" stroke="#0000FF" stroke-width="1.5"/>
<circle cx="382.4" cy="346.6" r="2.15" fill="none" stroke="#0000FF" stroke-width="1.5"/>
<circle cx="411.5" cy="266.2" r="2.4" fill="#0000FF"/>
<circle cx="404.7" cy="271.6" r="2.4" fill="#0000FF"/>
<circle cx="408.40000000000003" cy="288.4" r="2.4" fill="#0000FF"/>
<circle cx="408.40000000000003" cy="313.4" r="2.4" fill="#0000FF"/>
<polygon points="426.6,365.65 428.65000000000003,369.35 424.55,369.35" fill="none" stroke="#F4118C" stroke-width="1.15" stroke-linejoin="miter"/>
<polygon points="429.3,364.95 431.35,368.65000000000003 427.25,368.65000000000003" fill="none" stroke="#F4118C" stroke-width="1.15" stroke-linejoin="miter"/>
<polygon points="432.1,365.34999999999997 434.15000000000003,369.05 430.05,369.05" fill="none" stroke="#F4118C" stroke-width="1.15" stroke-linejoin="miter"/>
<polygon points="434.6,365.65 436.65000000000003,369.35 432.55,369.35" fill="none" stroke="#F4118C" stroke-width="1.15" stroke-linejoin="miter"/>
<polygon points="449.6,366.15 451.55,369.85 447.65000000000003,369.85" fill="#F4118C" stroke="#F4118C" stroke-width="0.5"/>
<polygon points="452.1,365.65 454.05,369.35 450.15000000000003,369.35" fill="#F4118C" stroke="#F4118C" stroke-width="0.5"/>
<polygon points="455.1,365.65 457.05,369.35 453.15000000000003,369.35" fill="#F4118C" stroke="#F4118C" stroke-width="0.5"/>
<polygon points="457.6,364.65 459.55,368.35 455.65000000000003,368.35" fill="#F4118C" stroke="#F4118C" stroke-width="0.5"/>
<polygon points="475.6,331.05 477.65000000000003,327.34999999999997 473.55,327.34999999999997" fill="none" stroke="#FF3030" stroke-width="1.15" stroke-linejoin="miter"/>
<polygon points="471.6,352.55 473.65000000000003,348.84999999999997 469.55,348.84999999999997" fill="none" stroke="#FF3030" stroke-width="1.15" stroke-linejoin="miter"/>
<polygon points="475.6,353.65000000000003 477.65000000000003,349.95 473.55,349.95" fill="none" stroke="#FF3030" stroke-width="1.15" stroke-linejoin="miter"/>
<polygon points="479.6,352.55 481.65000000000003,348.84999999999997 477.55,348.84999999999997" fill="none" stroke="#FF3030" stroke-width="1.15" stroke-linejoin="miter"/>
<polygon points="498.0,330.55 499.95,326.84999999999997 496.05,326.84999999999997" fill="#FF3030" stroke="#FF3030" stroke-width="0.5"/>
<polygon points="494.5,339.35 496.45,335.65 492.55,335.65" fill="#FF3030" stroke="#FF3030" stroke-width="0.5"/>
<polygon points="501.5,339.35 503.45,335.65 499.55,335.65" fill="#FF3030" stroke="#FF3030" stroke-width="0.5"/>
<polygon points="498.0,342.05 499.95,338.34999999999997 496.05,338.34999999999997" fill="#FF3030" stroke="#FF3030" stroke-width="0.5"/>
<path d="M369.75,374.2 H513.7" stroke="#000" stroke-width="2.1" fill="none"/>
<path d="M385.7,374.2 V377.05" stroke="#000" stroke-width="1.3" fill="none"/>
<path d="M408.3,374.2 V377.05" stroke="#000" stroke-width="1.3" fill="none"/>
<path d="M430.6,374.2 V377.05" stroke="#000" stroke-width="1.3" fill="none"/>
<path d="M453.1,374.2 V377.05" stroke="#000" stroke-width="1.3" fill="none"/>
<path d="M475.6,374.2 V377.05" stroke="#000" stroke-width="1.3" fill="none"/>
<path d="M498.0,374.2 V377.05" stroke="#000" stroke-width="1.3" fill="none"/>
<text x="385.7" y="387.8" font-size="10.0" text-anchor="middle" fill="#000" stroke="#000" stroke-width="0.25">IgG</text>
<text x="408.3" y="387.8" font-size="10.0" text-anchor="middle" fill="#000" stroke="#000" stroke-width="0.25">mAb</text>
<text x="430.6" y="387.8" font-size="10.0" text-anchor="middle" fill="#000" stroke="#000" stroke-width="0.25">IgG</text>
<text x="453.1" y="387.8" font-size="10.0" text-anchor="middle" fill="#000" stroke="#000" stroke-width="0.25">mAb</text>
<text x="475.6" y="387.8" font-size="10.0" text-anchor="middle" fill="#000" stroke="#000" stroke-width="0.25">IgG</text>
<text x="498.0" y="387.8" font-size="10.0" text-anchor="middle" fill="#000" stroke="#000" stroke-width="0.25">mAb</text>
<path d="M383.7,394.5 H410.3" stroke="#000" stroke-width="1.7" fill="none"/>
<text x="397.0" y="407.3" font-size="13.3" text-anchor="middle" fill="#000" stroke="#000" stroke-width="0.25">Ctrl</text>
<path d="M428.55,394.5 H455.15000000000003" stroke="#000" stroke-width="1.7" fill="none"/>
<text x="441.85" y="407.3" font-size="13.3" text-anchor="middle" fill="#000" stroke="#000" stroke-width="0.25">nAb</text>
<path d="M473.5,394.5 H500.1" stroke="#000" stroke-width="1.7" fill="none"/>
<text x="486.8" y="407.3" font-size="13.3" text-anchor="middle" fill="#000" stroke="#000" stroke-width="0.25">Ex9</text>
<path d="M387.2,331.5 V250.3 H408.8 V257.1" stroke="#000" stroke-width="1.6" fill="none" stroke-linejoin="round"/>
<text x="397.5" y="246.1" font-size="11.1" text-anchor="middle" fill="#000" textLength="47.6" lengthAdjust="spacingAndGlyphs" stroke="#000" stroke-width="0.25">4.39-fold</text>
<text x="408.6" y="268.38" font-size="13.8" text-anchor="middle" fill="#000" stroke="#000" stroke-width="0.3">*</text>
<text x="452.5" y="363.5" font-size="8.6" text-anchor="middle" fill="#000" font-weight="bold" stroke="#000" stroke-width="0.25">#</text>
<text x="498" y="324.2" font-size="8.6" text-anchor="middle" fill="#000" font-weight="bold" stroke="#000" stroke-width="0.25">#</text>
<path d="M370.8,261.34999999999997 V314.65000000000003" stroke="#000" stroke-width="2.1" fill="none"/>
<path d="M367.45,262.4 H370.8" stroke="#000" stroke-width="1.7" fill="none"/>
<text x="365.8" y="267.7626" font-size="14.7" text-anchor="end" fill="#000" stroke="#000" stroke-width="0.25">100</text>
<path d="M367.45,288.1 H370.8" stroke="#000" stroke-width="1.7" fill="none"/>
<text x="365.8" y="293.46260000000007" font-size="14.7" text-anchor="end" fill="#000" stroke="#000" stroke-width="0.25">80</text>
<text x="365.8" y="315.36260000000004" font-size="14.7" text-anchor="end" fill="#000" stroke="#000" stroke-width="0.25">60</text>
<path d="M370.8,322.95 V374.55" stroke="#000" stroke-width="2.1" fill="none"/>
<text x="365.8" y="333.06260000000003" font-size="14.7" text-anchor="end" fill="#000" stroke="#000" stroke-width="0.25">30</text>
<path d="M367.45,348.1 H370.8" stroke="#000" stroke-width="1.7" fill="none"/>
<text x="365.8" y="353.46260000000007" font-size="14.7" text-anchor="end" fill="#000" stroke="#000" stroke-width="0.25">15</text>
<path d="M367.45,373.5 H370.8" stroke="#000" stroke-width="1.7" fill="none"/>
<text x="365.8" y="378.86260000000004" font-size="14.7" text-anchor="end" fill="#000" stroke="#000" stroke-width="0.25">0</text>
<path d="M367.9,313.9 H373.7 M367.9,322.9 H373.7" stroke="#000" stroke-width="1.5" fill="none"/>
<text x="-0.8" y="456.4" font-size="31.6" text-anchor="start" fill="#000" font-weight="bold" stroke="#000" stroke-width="0.5">E</text>
<text transform="translate(38.4,531.0) rotate(-90)" font-size="15.55" text-anchor="middle" stroke="#000" stroke-width="0.25">Supernatant active GLP-1</text>
<text transform="translate(57.6,529.9) rotate(-90)" font-size="15.55" text-anchor="middle" stroke="#000" stroke-width="0.25">(pmol/mg protein)</text>
<path d="M98.0,589.8 V552.1 H112.6 V589.8" fill="none" stroke="#0000FF" stroke-width="1.6"/>
<path d="M120.4,589.8 V511.3 H135.0 V589.8" fill="none" stroke="#0000FF" stroke-width="1.6"/>
<path d="M143.0,589.8 V560.4 H157.60000000000002 V589.8" fill="none" stroke="#F4118C" stroke-width="1.6"/>
<path d="M165.6,589.8 V554.6 H180.20000000000002 V589.8" fill="none" stroke="#F4118C" stroke-width="1.6"/>
<path d="M188.0,589.8 V557.5 H202.60000000000002 V589.8" fill="none" stroke="#FF3030" stroke-width="1.6"/>
<path d="M210.5,589.8 V541.3 H225.10000000000002 V589.8" fill="none" stroke="#FF3030" stroke-width="1.6"/>
<path d="M105.3,550.3 V554 M101.7,550.3 H108.89999999999999 M101.7,554 H108.89999999999999" fill="none" stroke="#0000FF" stroke-width="1.6"/>
<path d="M127.7,503 V519 M124.10000000000001,503 H131.3 M124.10000000000001,519 H131.3" fill="none" stroke="#0000FF" stroke-width="1.6"/>
<path d="M150.3,553 V567.1 M146.70000000000002,553 H153.9 M146.70000000000002,567.1 H153.9" fill="none" stroke="#F4118C" stroke-width="1.6"/>
<path d="M172.9,552 V557 M169.3,552 H176.5 M169.3,557 H176.5" fill="none" stroke="#F4118C" stroke-width="1.6"/>
<path d="M195.3,554.5 V560.5 M191.70000000000002,554.5 H198.9 M191.70000000000002,560.5 H198.9" fill="none" stroke="#FF3030" stroke-width="1.6"/>
<path d="M217.8,537.5 V544.8 M214.20000000000002,537.5 H221.4 M214.20000000000002,544.8 H221.4" fill="none" stroke="#FF3030" stroke-width="1.6"/>
<circle cx="101.89999999999999" cy="547.3" r="2.15" fill="none" stroke="#0000FF" stroke-width="1.5"/>
<circle cx="112.7" cy="550.8" r="2.15" fill="none" stroke="#0000FF" stroke-width="1.5"/>
<circle cx="107.7" cy="552.7" r="2.15" fill="none" stroke="#0000FF" stroke-width="1.5"/>
<circle cx="101.89999999999999" cy="556.9" r="2.15" fill="none" stroke="#0000FF" stroke-width="1.5"/>
<circle cx="127.7" cy="493.7" r="2.4" fill="#0000FF"/>
<circle cx="127.7" cy="503" r="2.4" fill="#0000FF"/>
<circle cx="130.8" cy="522.9" r="2.4" fill="#0000FF"/>
<circle cx="124.60000000000001" cy="525.4" r="2.4" fill="#0000FF"/>
<polygon points="153.8,545.4499999999999 155.85000000000002,549.15 151.75,549.15" fill="none" stroke="#F4118C" stroke-width="1.15" stroke-linejoin="miter"/>
<polygon points="147.10000000000002,549.4499999999999 149.15000000000003,553.15 145.05,553.15" fill="none" stroke="#F4118C" stroke-width="1.15" stroke-linejoin="miter"/>
<polygon points="150.60000000000002,560.85 152.65000000000003,564.5500000000001 148.55,564.5500000000001" fill="none" stroke="#F4118C" stroke-width="1.15" stroke-linejoin="miter"/>
<polygon points="150.60000000000002,577.35 152.65000000000003,581.0500000000001 148.55,581.0500000000001" fill="none" stroke="#F4118C" stroke-width="1.15" stroke-linejoin="miter"/>
<polygon points="169.4,550.15 171.35,553.85 167.45000000000002,553.85" fill="#F4118C" stroke="#F4118C" stroke-width="0.5"/>
<polygon points="172.9,550.15 174.85,553.85 170.95000000000002,553.85" fill="#F4118C" stroke="#F4118C" stroke-width="0.5"/>
<polygon points="176.9,550.15 178.85,553.85 174.95000000000002,553.85" fill="#F4118C" stroke="#F4118C" stroke-width="0.5"/>
<polygon points="172.9,562.35 174.85,566.0500000000001 170.95000000000002,566.0500000000001" fill="#F4118C" stroke="#F4118C" stroke-width="0.5"/>
<polygon points="190.0,558.0500000000001 192.05,554.35 187.95,554.35" fill="none" stroke="#FF3030" stroke-width="1.15" stroke-linejoin="miter"/>
<polygon points="198.8,555.65 200.85000000000002,551.9499999999999 196.75,551.9499999999999" fill="none" stroke="#FF3030" stroke-width="1.15" stroke-linejoin="miter"/>
<polygon points="195.0,561.35 197.05,557.65 192.95,557.65" fill="none" stroke="#FF3030" stroke-width="1.15" stroke-linejoin="miter"/>
<polygon points="195.0,568.0500000000001 197.05,564.35 192.95,564.35" fill="none" stroke="#FF3030" stroke-width="1.15" stroke-linejoin="miter"/>
<polygon points="215.0,534.35 216.95,530.65 213.05,530.65" fill="#FF3030" stroke="#FF3030" stroke-width="0.5"/>
<polygon points="221.20000000000002,538.0500000000001 223.15,534.35 219.25000000000003,534.35" fill="#FF3030" stroke="#FF3030" stroke-width="0.5"/>
<polygon points="220.8,546.85 222.75,543.15 218.85000000000002,543.15" fill="#FF3030" stroke="#FF3030" stroke-width="0.5"/>
<polygon points="215.0,550.5500000000001 216.95,546.85 213.05,546.85" fill="#FF3030" stroke="#FF3030" stroke-width="0.5"/>
<path d="M88.95,590.5 H233.8" stroke="#000" stroke-width="2.1" fill="none"/>
<path d="M105.3,590.5 V593.3499999999999" stroke="#000" stroke-width="1.3" fill="none"/>
<path d="M127.7,590.5 V593.3499999999999" stroke="#000" stroke-width="1.3" fill="none"/>
<path d="M150.3,590.5 V593.3499999999999" stroke="#000" stroke-width="1.3" fill="none"/>
<path d="M172.9,590.5 V593.3499999999999" stroke="#000" stroke-width="1.3" fill="none"/>
<path d="M195.3,590.5 V593.3499999999999" stroke="#000" stroke-width="1.3" fill="none"/>
<path d="M217.8,590.5 V593.3499999999999" stroke="#000" stroke-width="1.3" fill="none"/>
<path d="M90,477.25 V589.8" stroke="#000" stroke-width="2.1" fill="none"/>
<path d="M86.65,589.8 H90" stroke="#000" stroke-width="1.7" fill="none"/>
<text x="85.0" y="595.1626" font-size="14.7" text-anchor="end" fill="#000" stroke="#000" stroke-width="0.25">0.0</text>
<path d="M86.65,552.64 H90" stroke="#000" stroke-width="1.7" fill="none"/>
<text x="85.0" y="558.0026" font-size="14.7" text-anchor="end" fill="#000" stroke="#000" stroke-width="0.25">0.4</text>
<path d="M86.65,515.4799999999999 H90" stroke="#000" stroke-width="1.7" fill="none"/>
<text x="85.0" y="520.8426" font-size="14.7" text-anchor="end" fill="#000" stroke="#000" stroke-width="0.25">0.8</text>
<path d="M86.65,478.31999999999994 H90" stroke="#000" stroke-width="1.7" fill="none"/>
<text x="85.0" y="483.6826" font-size="14.7" text-anchor="end" fill="#000" stroke="#000" stroke-width="0.25">1.2</text>
<text x="105.3" y="604.0999999999999" font-size="10.0" text-anchor="middle" fill="#000" stroke="#000" stroke-width="0.25">IgG</text>
<text x="127.7" y="604.0999999999999" font-size="10.0" text-anchor="middle" fill="#000" stroke="#000" stroke-width="0.25">mAb</text>
<text x="150.3" y="604.0999999999999" font-size="10.0" text-anchor="middle" fill="#000" stroke="#000" stroke-width="0.25">IgG</text>
<text x="172.9" y="604.0999999999999" font-size="10.0" text-anchor="middle" fill="#000" stroke="#000" stroke-width="0.25">mAb</text>
<text x="195.3" y="604.0999999999999" font-size="10.0" text-anchor="middle" fill="#000" stroke="#000" stroke-width="0.25">IgG</text>
<text x="217.8" y="604.0999999999999" font-size="10.0" text-anchor="middle" fill="#000" stroke="#000" stroke-width="0.25">mAb</text>
<path d="M103.2,610.8 H129.8" stroke="#000" stroke-width="1.7" fill="none"/>
<text x="116.5" y="623.5999999999999" font-size="13.3" text-anchor="middle" fill="#000" stroke="#000" stroke-width="0.25">Ctrl</text>
<path d="M148.3,610.8 H174.90000000000003" stroke="#000" stroke-width="1.7" fill="none"/>
<text x="161.60000000000002" y="623.5999999999999" font-size="13.3" text-anchor="middle" fill="#000" stroke="#000" stroke-width="0.25">nAb</text>
<path d="M193.25,610.8 H219.85000000000002" stroke="#000" stroke-width="1.7" fill="none"/>
<text x="206.55" y="623.5999999999999" font-size="13.3" text-anchor="middle" fill="#000" stroke="#000" stroke-width="0.25">Ex9</text>
<path d="M108.2,538.8 V466.8 H127.7 V477.6" stroke="#000" stroke-width="1.6" fill="none" stroke-linejoin="round"/>
<text x="120.1" y="460.1" font-size="11.1" text-anchor="middle" fill="#000" textLength="47.6" lengthAdjust="spacingAndGlyphs" stroke="#000" stroke-width="0.25">2.07-fold</text>
<text x="128.2" y="493.78" font-size="13.8" text-anchor="middle" fill="#000" stroke="#000" stroke-width="0.3">*</text>
<text x="173" y="544.4" font-size="8.6" text-anchor="middle" fill="#000" font-weight="bold" stroke="#000" stroke-width="0.25">#</text>
<text x="218" y="528.2" font-size="8.6" text-anchor="middle" fill="#000" font-weight="bold" stroke="#000" stroke-width="0.25">#</text>
<text x="275.8" y="456.4" font-size="31.6" text-anchor="start" fill="#000" font-weight="bold" stroke="#000" stroke-width="0.5">F</text>
<text transform="translate(318.3,531.0) rotate(-90)" font-size="15.55" text-anchor="middle" stroke="#000" stroke-width="0.25">Supernatant active GLP-1</text>
<text transform="translate(337.5,529.9) rotate(-90)" font-size="15.55" text-anchor="middle" stroke="#000" stroke-width="0.25">(pmol/mg protein)</text>
<path d="M378.09999999999997,589.8 V568 H392.7 V589.8" fill="none" stroke="#0000FF" stroke-width="1.6"/>
<path d="M400.7,589.8 V515.8 H415.3 V589.8" fill="none" stroke="#0000FF" stroke-width="1.6"/>
<path d="M423.3,589.8 V560.8 H437.90000000000003 V589.8" fill="none" stroke="#F4118C" stroke-width="1.6"/>
<path d="M445.8,589.8 V558.5 H460.40000000000003 V589.8" fill="none" stroke="#F4118C" stroke-width="1.6"/>
<path d="M468.2,589.8 V570 H482.8 V589.8" fill="none" stroke="#FF3030" stroke-width="1.6"/>
<path d="M490.8,589.8 V566.5 H505.40000000000003 V589.8" fill="none" stroke="#FF3030" stroke-width="1.6"/>
<path d="M385.4,563.6 V572 M381.79999999999995,563.6 H389.0 M381.79999999999995,572 H389.0" fill="none" stroke="#0000FF" stroke-width="1.6"/>
<path d="M408.0,503.7 V527.7 M404.4,503.7 H411.6 M404.4,527.7 H411.6" fill="none" stroke="#0000FF" stroke-width="1.6"/>
<path d="M430.6,556.2 V567.1 M427.0,556.2 H434.20000000000005 M427.0,567.1 H434.20000000000005" fill="none" stroke="#F4118C" stroke-width="1.6"/>
<path d="M453.1,551.3 V566.5 M449.5,551.3 H456.70000000000005 M449.5,566.5 H456.70000000000005" fill="none" stroke="#F4118C" stroke-width="1.6"/>
<path d="M475.5,569 V571 M471.9,569 H479.1 M471.9,571 H479.1" fill="none" stroke="#FF3030" stroke-width="1.6"/>
<path d="M498.1,565.5 V567.8 M494.5,565.5 H501.70000000000005 M494.5,567.8 H501.70000000000005" fill="none" stroke="#FF3030" stroke-width="1.6"/>
<circle cx="385.59999999999997" cy="554.6" r="2.15" fill="none" stroke="#0000FF" stroke-width="1.5"/>
<circle cx="381.9" cy="571" r="2.15" fill="none" stroke="#0000FF" stroke-width="1.5"/>
<circle cx="388.9" cy="572" r="2.15" fill="none" stroke="#0000FF" stroke-width="1.5"/>
<circle cx="385.4" cy="577.3" r="2.15" fill="none" stroke="#0000FF" stroke-width="1.5"/>
<circle cx="408.3" cy="492.7" r="2.4" fill="#0000FF"/>
<circle cx="408.3" cy="507" r="2.4" fill="#0000FF"/>
<circle cx="408.3" cy="515" r="2.4" fill="#0000FF"/>
<circle cx="408.3" cy="548.8" r="2.4" fill="#0000FF"/>
<polygon points="430.6,543.55 432.65000000000003,547.25 428.55,547.25" fill="none" stroke="#F4118C" stroke-width="1.15" stroke-linejoin="miter"/>
<polygon points="430.6,553.15 432.65000000000003,556.85 428.55,556.85" fill="none" stroke="#F4118C" stroke-width="1.15" stroke-linejoin="miter"/>
<polygon points="434.0,568.75 436.05,572.45 431.95,572.45" fill="none" stroke="#F4118C" stroke-width="1.15" stroke-linejoin="miter"/>
<polygon points="427.1,571.65 429.15000000000003,575.35 425.05,575.35" fill="none" stroke="#F4118C" stroke-width="1.15" stroke-linejoin="miter"/>
<polygon points="453.1,541.15 455.05,544.85 451.15000000000003,544.85" fill="#F4118C" stroke="#F4118C" stroke-width="0.5"/>
<polygon points="453.1,549.15 455.05,552.85 451.15000000000003,552.85" fill="#F4118C" stroke="#F4118C" stroke-width="0.5"/>
<polygon points="453.1,564.65 455.05,568.35 451.15000000000003,568.35" fill="#F4118C" stroke="#F4118C" stroke-width="0.5"/>
<polygon points="453.1,572.55 455.05,576.25 451.15000000000003,576.25" fill="#F4118C" stroke="#F4118C" stroke-width="0.5"/>
<polygon points="471.9,570.35 473.95,566.65 469.84999999999997,566.65" fill="none" stroke="#FF3030" stroke-width="1.15" stroke-linejoin="miter"/>
<polygon points="473.7,574.0500000000001 475.75,570.35 471.65,570.35" fill="none" stroke="#FF3030" stroke-width="1.15" stroke-linejoin="miter"/>
<polygon points="476.3,571.85 478.35,568.15 474.25,568.15" fill="none" stroke="#FF3030" stroke-width="1.15" stroke-linejoin="miter"/>
<polygon points="478.7,569.65 480.75,565.9499999999999 476.65,565.9499999999999" fill="none" stroke="#FF3030" stroke-width="1.15" stroke-linejoin="miter"/>
<polygon points="495.0,566.85 496.95,563.15 493.05,563.15" fill="#FF3030" stroke="#FF3030" stroke-width="0.5"/>
<polygon points="496.6,569.85 498.55,566.15 494.65000000000003,566.15" fill="#FF3030" stroke="#FF3030" stroke-width="0.5"/>
<polygon points="499.40000000000003,569.85 501.35,566.15 497.45000000000005,566.15" fill="#FF3030" stroke="#FF3030" stroke-width="0.5"/>
<polygon points="501.6,565.35 503.55,561.65 499.65000000000003,561.65" fill="#FF3030" stroke="#FF3030" stroke-width="0.5"/>
<path d="M369.75,590.5 H513.7" stroke="#000" stroke-width="2.1" fill="none"/>
<path d="M385.4,590.5 V593.3499999999999" stroke="#000" stroke-width="1.3" fill="none"/>
<path d="M408.0,590.5 V593.3499999999999" stroke="#000" stroke-width="1.3" fill="none"/>
<path d="M430.6,590.5 V593.3499999999999" stroke="#000" stroke-width="1.3" fill="none"/>
<path d="M453.1,590.5 V593.3499999999999" stroke="#000" stroke-width="1.3" fill="none"/>
<path d="M475.5,590.5 V593.3499999999999" stroke="#000" stroke-width="1.3" fill="none"/>
<path d="M498.1,590.5 V593.3499999999999" stroke="#000" stroke-width="1.3" fill="none"/>
<path d="M370.8,477.25 V589.8" stroke="#000" stroke-width="2.1" fill="none"/>
<path d="M367.45,589.8 H370.8" stroke="#000" stroke-width="1.7" fill="none"/>
<text x="365.8" y="595.1626" font-size="14.7" text-anchor="end" fill="#000" stroke="#000" stroke-width="0.25">0.0</text>
<path d="M367.45,552.635 H370.8" stroke="#000" stroke-width="1.7" fill="none"/>
<text x="365.8" y="557.9976" font-size="14.7" text-anchor="end" fill="#000" stroke="#000" stroke-width="0.25">0.5</text>
<path d="M367.45,515.4699999999999 H370.8" stroke="#000" stroke-width="1.7" fill="none"/>
<text x="365.8" y="520.8326" font-size="14.7" text-anchor="end" fill="#000" stroke="#000" stroke-width="0.25">1.0</text>
<path d="M367.45,478.30499999999995 H370.8" stroke="#000" stroke-width="1.7" fill="none"/>
<text x="365.8" y="483.6676" font-size="14.7" text-anchor="end" fill="#000" stroke="#000" stroke-width="0.25">1.5</text>
<text x="385.4" y="604.0999999999999" font-size="10.0" text-anchor="middle" fill="#000" stroke="#000" stroke-width="0.25">IgG</text>
<text x="408.0" y="604.0999999999999" font-size="10.0" text-anchor="middle" fill="#000" stroke="#000" stroke-width="0.25">mAb</text>
<text x="430.6" y="604.0999999999999" font-size="10.0" text-anchor="middle" fill="#000" stroke="#000" stroke-width="0.25">IgG</text>
<text x="453.1" y="604.0999999999999" font-size="10.0" text-anchor="middle" fill="#000" stroke="#000" stroke-width="0.25">mAb</text>
<text x="475.5" y="604.0999999999999" font-size="10.0" text-anchor="middle" fill="#000" stroke="#000" stroke-width="0.25">IgG</text>
<text x="498.1" y="604.0999999999999" font-size="10.0" text-anchor="middle" fill="#000" stroke="#000" stroke-width="0.25">mAb</text>
<path d="M383.4,610.8 H410.0" stroke="#000" stroke-width="1.7" fill="none"/>
<text x="396.7" y="623.5999999999999" font-size="13.3" text-anchor="middle" fill="#000" stroke="#000" stroke-width="0.25">Ctrl</text>
<path d="M428.55,610.8 H455.15000000000003" stroke="#000" stroke-width="1.7" fill="none"/>
<text x="441.85" y="623.5999999999999" font-size="13.3" text-anchor="middle" fill="#000" stroke="#000" stroke-width="0.25">nAb</text>
<path d="M473.5,610.8 H500.1" stroke="#000" stroke-width="1.7" fill="none"/>
<text x="486.8" y="623.5999999999999" font-size="13.3" text-anchor="middle" fill="#000" stroke="#000" stroke-width="0.25">Ex9</text>
<path d="M387.2,547 V466.4 H408.8 V478.20000000000005" stroke="#000" stroke-width="1.6" fill="none" stroke-linejoin="round"/>
<text x="399.0" y="460.4" font-size="11.1" text-anchor="middle" fill="#000" textLength="47.5" lengthAdjust="spacingAndGlyphs" stroke="#000" stroke-width="0.25">3.42-fold</text>
<text x="408.6" y="489.78" font-size="13.8" text-anchor="middle" fill="#000" stroke="#000" stroke-width="0.3">*</text>
<text x="452.7" y="536.5" font-size="8.6" text-anchor="middle" fill="#000" font-weight="bold" stroke="#000" stroke-width="0.25">#</text>
<text x="497.9" y="560.8" font-size="8.6" text-anchor="middle" fill="#000" font-weight="bold" stroke="#000" stroke-width="0.25">#</text>
</svg></body></html>
